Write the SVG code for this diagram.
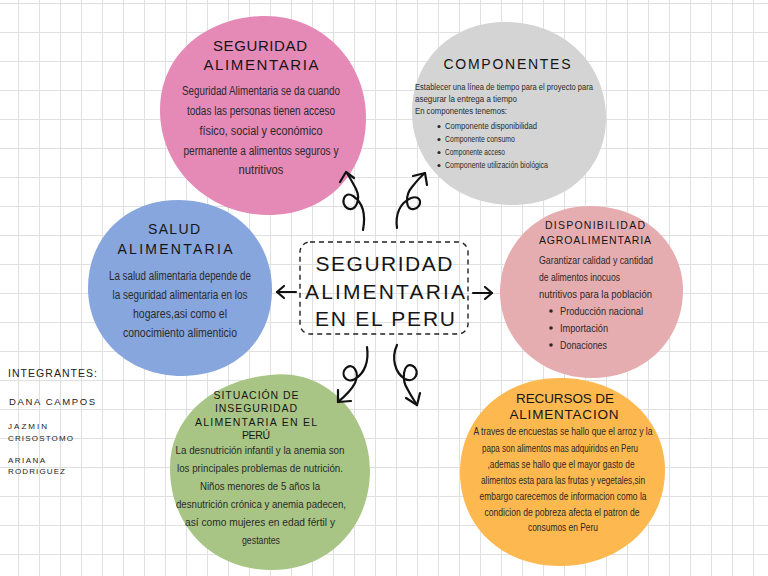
<svg xmlns="http://www.w3.org/2000/svg" width="768" height="576" viewBox="0 0 768 576">
<defs>
<pattern id="grid" x="-3" y="3" width="21" height="29" patternUnits="userSpaceOnUse">
<path d="M0,0.5 H21 M0.5,0 V29" fill="none" stroke="#e0e0e0" stroke-width="1"/>
</pattern>
<style>
.t{font-family:"Liberation Sans","DejaVu Sans",sans-serif;fill:#151515;text-anchor:middle}
.b{font-family:"Liberation Sans Narrow","Liberation Sans",sans-serif;fill:#2a2a2a}
.c{text-anchor:middle}
.conn{fill:none;stroke:#111;stroke-width:2.2;stroke-linecap:round;stroke-linejoin:round}
.who{font-family:"Liberation Sans","DejaVu Sans",sans-serif;fill:#222}
</style>
</defs>
<rect width="768" height="576" fill="#ffffff"/>
<rect width="768" height="576" fill="url(#grid)"/>

<g id="node-seguridad">
<path d="M262,16 C320,14 366,60 366,118 C366,175 325,215 268,215 C210,215 160,170 160,110 C160,55 205,18 262,16 Z" fill="#e589b7"/>
<text class="t" x="260" y="51" font-size="15" textLength="94" lengthAdjust="spacing">SEGURIDAD</text>
<text class="t" x="261" y="70" font-size="15" textLength="115" lengthAdjust="spacing">ALIMENTARIA</text>
<g class="b c" font-size="12">
<text x="261" y="95" textLength="158" lengthAdjust="spacingAndGlyphs">Seguridad Alimentaria se da cuando</text>
<text x="261" y="115" textLength="148" lengthAdjust="spacingAndGlyphs">todas las personas tienen acceso</text>
<text x="261" y="135" textLength="123" lengthAdjust="spacingAndGlyphs">físico, social y económico</text>
<text x="261" y="155" textLength="155" lengthAdjust="spacingAndGlyphs">permanente a alimentos seguros y</text>
<text x="261" y="174" textLength="45" lengthAdjust="spacingAndGlyphs">nutritivos</text>
</g>
</g>

<g id="node-componentes">
<path d="M505,22 C565,22 606,65 606,118 C606,170 565,205 512,205 C455,205 412,165 412,112 C412,60 452,22 505,22 Z" fill="#d4d4d4"/>
<text class="t" x="507" y="69" font-size="14" textLength="127" lengthAdjust="spacing">COMPONENTES</text>
<g class="b" font-size="8.5">
<text x="415" y="90" textLength="178" lengthAdjust="spacingAndGlyphs">Establecer una línea de tiempo para el proyecto para</text>
<text x="415" y="102" textLength="102" lengthAdjust="spacingAndGlyphs">asegurar la entrega a tiempo</text>
<text x="415" y="114" textLength="92" lengthAdjust="spacingAndGlyphs">En componentes tenemos:</text>
<text x="445" y="129" textLength="92" lengthAdjust="spacingAndGlyphs">Componente disponibilidad</text>
<text x="445" y="142" textLength="70" lengthAdjust="spacingAndGlyphs">Componente consumo</text>
<text x="445" y="155" textLength="60" lengthAdjust="spacingAndGlyphs">Componente acceso</text>
<text x="445" y="168" textLength="103" lengthAdjust="spacingAndGlyphs">Componente utilización biológica</text>
</g>
<g fill="#2a2a2a">
<circle cx="439" cy="126.5" r="1.6"/><circle cx="439" cy="139.5" r="1.6"/><circle cx="439" cy="152.5" r="1.6"/><circle cx="439" cy="165.5" r="1.6"/>
</g>
</g>

<g id="node-salud">
<path d="M178,200 C235,200 272,240 272,290 C272,340 235,376 182,376 C128,376 88,338 88,288 C88,238 125,200 178,200 Z" fill="#87a6dd"/>
<text class="t" x="174" y="234" font-size="14" textLength="52" lengthAdjust="spacing">SALUD</text>
<text class="t" x="175" y="254" font-size="14" textLength="115" lengthAdjust="spacing">ALIMENTARIA</text>
<g class="b c" font-size="12">
<text x="180" y="280" textLength="142" lengthAdjust="spacingAndGlyphs">La salud alimentaria depende de</text>
<text x="180" y="299" textLength="135" lengthAdjust="spacingAndGlyphs">la seguridad alimentaria en los</text>
<text x="180" y="318" textLength="94" lengthAdjust="spacingAndGlyphs">hogares,asi como el</text>
<text x="180" y="337" textLength="114" lengthAdjust="spacingAndGlyphs">conocimiento alimenticio</text>
</g>
</g>

<g id="node-disponibilidad">
<path d="M590,206 C645,206 683,245 683,290 C683,340 645,378 592,378 C540,378 500,340 500,292 C500,245 538,206 590,206 Z" fill="#e6adb0"/>
<text class="t" x="595" y="229" font-size="10.5" textLength="100" lengthAdjust="spacing">DISPONIBILIDAD</text>
<text class="t" x="595" y="244" font-size="10.5" textLength="112" lengthAdjust="spacing">AGROALIMENTARIA</text>
<g class="b" font-size="11">
<text x="539" y="264" textLength="114" lengthAdjust="spacingAndGlyphs">Garantizar calidad y cantidad</text>
<text x="539" y="281" textLength="81" lengthAdjust="spacingAndGlyphs">de alimentos inocuos</text>
<text x="539" y="298" textLength="113" lengthAdjust="spacingAndGlyphs">nutritivos para la población</text>
<text x="560" y="315" textLength="83" lengthAdjust="spacingAndGlyphs">Producción nacional</text>
<text x="560" y="332" textLength="48" lengthAdjust="spacingAndGlyphs">Importación</text>
<text x="560" y="349" textLength="47" lengthAdjust="spacingAndGlyphs">Donaciones</text>
</g>
<g fill="#2a2a2a">
<circle cx="551" cy="311" r="1.8"/><circle cx="551" cy="328" r="1.8"/><circle cx="551" cy="345" r="1.8"/>
</g>
</g>

<g id="node-situacion">
<path d="M270,375 C330,368 370,420 370,470 C370,530 325,572 268,570 C210,568 170,525 170,468 C170,415 215,380 270,375 Z" fill="#a9c585"/>
<text class="t" x="256" y="399" font-size="10.5" textLength="85" lengthAdjust="spacing">SITUACIÓN DE</text>
<text class="t" x="256" y="412" font-size="10.5" textLength="82" lengthAdjust="spacing">INSEGURIDAD</text>
<text class="t" x="256" y="426" font-size="10.5" textLength="122" lengthAdjust="spacing">ALIMENTARIA EN EL</text>
<text class="t" x="256" y="439" font-size="10.5" textLength="28" lengthAdjust="spacing">PERÚ</text>
<g class="b c" font-size="11.5">
<text x="260" y="454" textLength="169" lengthAdjust="spacingAndGlyphs">La desnutrición infantil y la anemia son</text>
<text x="260" y="472" textLength="166" lengthAdjust="spacingAndGlyphs">los principales problemas de nutrición.</text>
<text x="260" y="490" textLength="120" lengthAdjust="spacingAndGlyphs">Niños menores de 5 años la</text>
<text x="261" y="508" textLength="170" lengthAdjust="spacingAndGlyphs">desnutrición crónica y anemia padecen,</text>
<text x="260" y="526" textLength="150" lengthAdjust="spacingAndGlyphs">así como mujeres en edad fértil y</text>
<text x="261" y="544" textLength="38" lengthAdjust="spacingAndGlyphs">gestantes</text>
</g>
</g>

<g id="node-recursos">
<path d="M560,378 C622,378 665,420 665,470 C665,525 620,566 560,566 C500,566 460,525 460,472 C460,420 500,378 560,378 Z" fill="#fdb94f"/>
<text class="t" x="565" y="403" font-size="13.5" textLength="98" lengthAdjust="spacing">RECURSOS DE</text>
<text class="t" x="564" y="419" font-size="13.5" textLength="109" lengthAdjust="spacing">ALIMENTACION</text>
<g class="b c" font-size="10">
<text x="563" y="435" textLength="179" lengthAdjust="spacingAndGlyphs">A traves de encuestas se hallo que el arroz y la</text>
<text x="560" y="452" textLength="156" lengthAdjust="spacingAndGlyphs">papa son alimentos mas adquiridos en Peru</text>
<text x="561" y="468" textLength="147" lengthAdjust="spacingAndGlyphs">,ademas se hallo que el mayor gasto de</text>
<text x="563" y="484" textLength="164" lengthAdjust="spacingAndGlyphs">alimentos esta para las frutas y vegetales,sin</text>
<text x="563" y="500" textLength="167" lengthAdjust="spacingAndGlyphs">embargo carecemos de informacion como la</text>
<text x="562" y="516" textLength="155" lengthAdjust="spacingAndGlyphs">condicion de pobreza afecta el patron de</text>
<text x="563" y="531" textLength="70" lengthAdjust="spacingAndGlyphs">consumos en Peru</text>
</g>
</g>

<g id="node-central">
<rect x="300" y="242" width="168" height="92" rx="10" fill="none" stroke="#222" stroke-width="1.4" stroke-dasharray="5,4"/>
<text class="t" x="384" y="271" font-size="21" textLength="137" lengthAdjust="spacing">SEGURIDAD</text>
<text class="t" x="385" y="299" font-size="21" textLength="160" lengthAdjust="spacing">ALIMENTARIA</text>
<text class="t" x="385" y="326" font-size="21" textLength="140" lengthAdjust="spacing">EN EL PERU</text>
</g>

<g id="connectors">
<path class="conn" d="M363,230 C366,214 362,202 353,196 C344,190 340,204 347,208 C356,213 361,199 356,189 C353,183 350,178 347,173"/>
<path class="conn" d="M340,182 L346,172 L354,178"/>
<path class="conn" d="M397,228 C395,214 400,203 411,198 C422,194 423,207 414,209 C405,211 405,195 412,187 C416,182 420,177 425,173"/>
<path class="conn" d="M413,176 L425,173 L427,185"/>
<path class="conn" d="M296,292 L277,292"/>
<path class="conn" d="M284,286 L277,292 L284,298"/>
<path class="conn" d="M473,293 L492,293"/>
<path class="conn" d="M485,287 L492,293 L485,299"/>
<path class="conn" d="M367,347 C369,361 365,373 355,379 C346,384 340,374 346,368 C353,362 360,372 355,383 C351,391 344,397 338,402"/>
<path class="conn" d="M338,390 L338,402 L351,401"/>
<path class="conn" d="M397,345 C391,358 395,373 405,379 C415,384 421,371 413,366 C403,361 401,380 408,390 C411,396 414,400 417,405"/>
<path class="conn" d="M406,398 L417,405 L420,393"/>
</g>

<g id="integrantes">
<text class="who" x="8" y="377" font-size="10.5" textLength="89" lengthAdjust="spacing">INTEGRANTES:</text>
<text class="who" x="9" y="405" font-size="9.5" textLength="86" lengthAdjust="spacing">DANA CAMPOS</text>
<text class="who" x="8" y="429" font-size="8" textLength="39" lengthAdjust="spacing">JAZMIN</text>
<text class="who" x="8" y="441" font-size="8" textLength="65" lengthAdjust="spacing">CRISOSTOMO</text>
<text class="who" x="8" y="463" font-size="8" textLength="37" lengthAdjust="spacing">ARIANA</text>
<text class="who" x="8" y="474" font-size="8" textLength="57" lengthAdjust="spacing">RODRIGUEZ</text>
</g>
</svg>
